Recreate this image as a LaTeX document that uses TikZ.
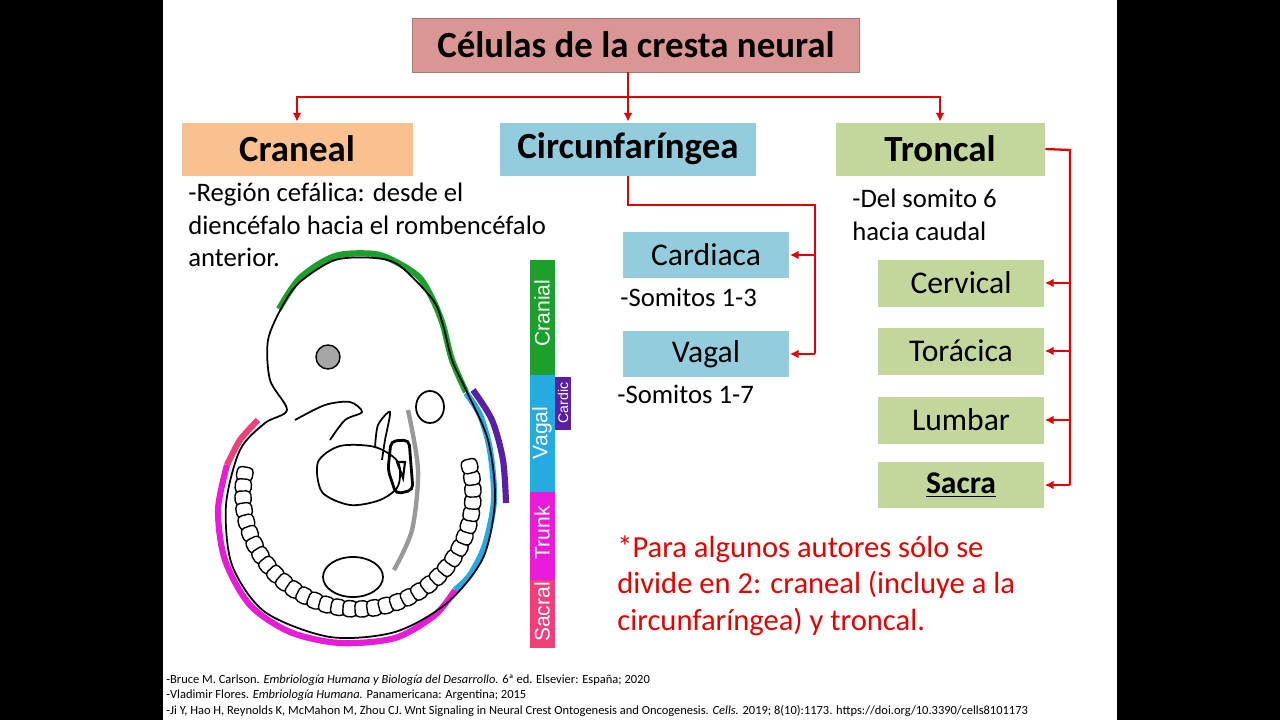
\documentclass[tikz,border=0pt]{standalone}
\usepackage{fontspec}
\setmainfont{Carlito}
\setsansfont{Liberation Sans}
\usetikzlibrary{arrows.meta,positioning}
\definecolor{titlefill}{HTML}{D99694}
\definecolor{cranfill}{HTML}{FAC090}
\definecolor{circfill}{HTML}{93CDDD}
\definecolor{troncfill}{HTML}{C3D69B}
\definecolor{arrowred}{HTML}{E00000}
\definecolor{bandgreen}{HTML}{1BA12B}
\definecolor{bandblue}{HTML}{27AAE1}
\definecolor{bandmag}{HTML}{E81CD8}
\definecolor{bandpink}{HTML}{F0407A}
\definecolor{bandpurple}{HTML}{5B1FA6}
\begin{document}
\begin{tikzpicture}[
  x = 0.02cm, y = -0.02cm,
  box/.style = {
    draw = white,
    inner sep = 0pt,
    font = \fontsize{18}{21}\selectfont,
  },
  bigbox/.style = {
    box,
    font = \fontsize{21}{24}\selectfont\bfseries,
  },
  link/.style = {
    arrowred, line width = 1.3pt, -{Latex[length=5pt,width=5pt]}
  },
  band/.style = {
    text = white, inner sep = 0pt, rotate = 90,
    font = \sffamily\fontsize{12}{14}\selectfont
  },
  outline/.style = {
    line width = 1pt, black
  },
  note/.style = {
    anchor = north west, align = left, inner sep = 0pt,
    font = \fontsize{15.2}{18.5}\selectfont
  }
]
  \useasboundingbox (0, 0) rectangle (1280, 720);
  \fill[black] (0, 0) rectangle (163, 720);
  \fill[black] (1117, 0) rectangle (1280, 720);

  % boxes
  \node[bigbox, fill = titlefill, draw = titlefill!80!black, minimum width = 8.94cm, minimum height = 1.08cm] (title) at (636, 45) {Células de la cresta neural};
  \node[bigbox, fill = cranfill, minimum width = 4.64cm, minimum height = 1.08cm] (cran) at (297, 149) {Craneal};
  \node[bigbox, fill = circfill, minimum width = 5.14cm, minimum height = 1.08cm] (circ) at (628, 149) {Circunfaríngea};
  \node[bigbox, fill = troncfill, minimum width = 4.2cm, minimum height = 1.08cm] (tronc) at (940, 149) {Troncal};

  \node[box, fill = circfill, minimum width = 3.34cm, minimum height = 0.94cm] (card) at (706, 255) {Cardiaca};
  \node[box, fill = circfill, minimum width = 3.34cm, minimum height = 0.94cm] (vagal) at (706, 354) {Vagal};

  \node[box, fill = troncfill, minimum width = 3.34cm, minimum height = 0.96cm] (cerv) at (961, 283) {Cervical};
  \node[box, fill = troncfill, minimum width = 3.34cm, minimum height = 0.96cm] (tora) at (961, 351) {Torácica};
  \node[box, fill = troncfill, minimum width = 3.34cm, minimum height = 0.96cm] (lumb) at (961, 420) {Lumbar};
  \node[box, fill = troncfill, minimum width = 3.34cm, minimum height = 0.94cm] (sacra) at (961, 485) {\textbf{\underline{Sacra}}};

  % connectors
  \coordinate (split) at (628, 97);
  \coordinate (circturn) at (815, 205);
  \coordinate (troncturn) at (1070, 150);
  \draw[arrowred, line width = 1.3pt] (split |- title.south) -- (split);
  \draw[link] (split) -| (cran.north);
  \draw[link] (split) -- (circ.north);
  \draw[link] (split) -| (tronc.north);
  \draw[arrowred, line width = 1.3pt] (circ.south) |- (circturn) -- (circturn |- vagal.east);
  \draw[link] (circturn |- card.east) -- (card.east);
  \draw[link] (circturn |- vagal.east) -- (vagal.east);
  \draw[arrowred, line width = 1.3pt] (tronc.east) -- (troncturn) -- (troncturn |- sacra.east);
  \foreach \b in {cerv, tora, lumb, sacra}
    \draw[link] (troncturn |- \b.east) -- (\b.east);

  % notes
  \node[note] (crannote) at (188, 183) {-Región cefálica: desde el\\diencéfalo hacia el rombencéfalo\\anterior.};
  \node[note] (troncnote) at (852, 189) {-Del somito 6\\hacia caudal};
  \node[note] (cardnote) at (620, 288) {-Somitos 1-3};
  \node[note] (vagalnote) at (617, 385) {-Somitos 1-7};
  \node[note, text = arrowred, font = \fontsize{17.4}{21}\selectfont] (authors) at (617, 535)
    {*Para algunos autores sólo se\\divide en 2: craneal (incluye a la\\circunfaríngea) y troncal.};
  \node[note, font = \fontsize{7.1}{9}\selectfont] (refs) at (166, 674)
    {-Bruce M. Carlson. \textit{Embriología Humana y Biología del Desarrollo.} 6ª ed. Elsevier: España; 2020\\
     -Vladimir Flores. \textit{Embriología Humana.} Panamericana: Argentina; 2015\\
     -Ji Y, Hao H, Reynolds K, McMahon M, Zhou CJ. Wnt Signaling in Neural Crest Ontogenesis and Oncogenesis. \textit{Cells.} 2019; 8(10):1173. https://doi.org/10.3390/cells8101173};

  % colour bar
  \fill[bandgreen] (530, 260) rectangle (555, 375);
  \fill[bandblue] (530, 375) rectangle (555, 492);
  \fill[bandmag] (530, 492) rectangle (555, 580);
  \fill[bandpink] (530, 580) rectangle (555, 648);
  \fill[bandpurple] (555, 377) rectangle (571, 430);
  \node[band] (cranial) at (542, 313) {Cranial};
  \node[band] (vag) at (542, 433) {Vagal};
  \node[band] (trunk) at (542, 533) {Trunk};
  \node[band] (sacral) at (542, 612) {Sacral};
  \node[band, font = \sffamily\fontsize{8}{9}\selectfont] (cardic) at (563, 403) {Cardic};

  % embryo
  \draw[bandgreen, line width = 3.5pt] plot[smooth] coordinates
    {(279, 309) (300, 278) (335, 256) (375, 254) (400, 264) (420, 278) (433, 300) (443, 325) (452, 360) (466, 392)};
  \draw[bandpurple, line width = 3.5pt] plot[smooth] coordinates
    {(473, 390) (492, 420) (503, 460) (506, 503)};
  \draw[bandblue, line width = 3.5pt] plot[smooth] coordinates
    {(466, 393) (480, 415) (490, 450) (494, 500) (485, 545) (470, 575) (455, 590)};
  \draw[bandmag, line width = 3.5pt] plot[smooth] coordinates
    {(227, 465) (218, 510) (225, 560) (250, 605) (290, 632) (340, 643) (395, 638) (435, 615) (455, 590)};
  \draw[bandpink, line width = 3.5pt] plot[smooth] coordinates
    {(258, 420) (240, 440) (227, 465)};
  \draw[outline] plot[smooth cycle] coordinates
    {(466, 390) (452, 360) (443, 325) (433, 300) (400, 266) (375, 258) (335, 260) (300, 282) (283, 305)
     (268, 340) (270, 380) (287, 410) (265, 423) (240, 450) (226, 505) (232, 565) (265, 612)
     (330, 637) (395, 632) (447, 603) (483, 558) (495, 500) (488, 440)};
  \foreach \a in {190, 184, ..., -14}
    \draw[outline, line width = 0.8pt, fill = white, rounded corners = 2.5pt, rotate around = {-\a: (358, 494)}]
      (465, 487) rectangle (481, 501);
  \fill[gray!70, draw = black, line width = 0.8pt] (328, 357) circle (12);
  \draw[outline] (430, 407) ellipse (14 and 16);
  \draw[gray!80, line width = 2.5pt] plot[smooth] coordinates {(408, 410) (418, 470) (412, 530) (394, 570)};
  \draw[outline] (353, 577) ellipse (30 and 20);
  \draw[outline] plot[smooth cycle] coordinates
    {(318, 462) (340, 446) (375, 447) (398, 462) (398, 486) (380, 500) (350, 505) (322, 492)};
  \draw[outline] plot[smooth] coordinates {(295, 420) (325, 405) (350, 402) (362, 412) (345, 420) (330, 440)};
  \draw[outline] plot[smooth] coordinates {(375, 448) (378, 425) (390, 412) (385, 440) (382, 460)};
  \draw[black, line width = 1.6pt, rounded corners = 3pt] (391, 441) -- (409, 440) -- (413, 490) -- (396, 494) -- (388, 470) -- cycle;
  \draw[black, line width = 1.2pt] (397, 462) -- (405, 462) -- (403, 478) -- cycle;
\end{tikzpicture}
\end{document}
